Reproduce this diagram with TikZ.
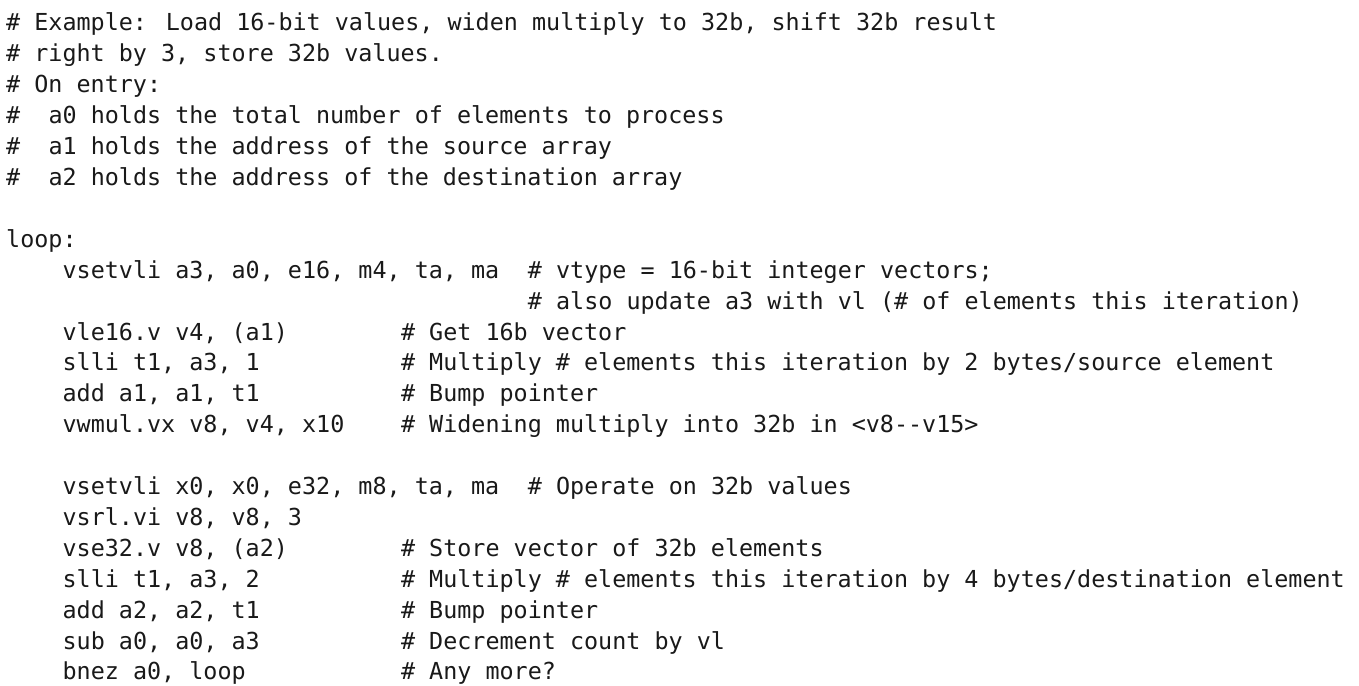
\documentclass[tikz,border=0pt]{standalone}
\usepackage{fontspec}
\newfontfamily\codefont{DejaVu Sans Mono}
\begin{document}
\begin{tikzpicture}[x=1pt,y=1pt,
  code/.style={anchor=base west,inner sep=0pt,font=\codefont\fontsize{23.4}{30.9}\selectfont,text=black!90}]
\useasboundingbox (0,0) rectangle (1359,-685);
\def\cw{14.1}
\def\ln#1#2#3#4{\node[code] (#1) at (6+#2*\cw,-31-#3*30.9) {#4};}
\ln{l0}{0}{0}{\# Example: Load 16-bit values, widen multiply to 32b, shift 32b result}
\ln{l1}{0}{1}{\# right by 3, store 32b values.}
\ln{l2}{0}{2}{\# On entry:}
\ln{l3a}{0}{3}{\#}\ln{l3}{3}{3}{a0 holds the total number of elements to process}
\ln{l4a}{0}{4}{\#}\ln{l4}{3}{4}{a1 holds the address of the source array}
\ln{l5a}{0}{5}{\#}\ln{l5}{3}{5}{a2 holds the address of the destination array}
\ln{l7}{0}{7}{loop:}
\ln{l8}{4}{8}{vsetvli a3, a0, e16, m4, ta, ma}\ln{l8c}{37}{8}{\# vtype = 16-bit integer vectors;}
\ln{l9c}{37}{9}{\# also update a3 with vl (\# of elements this iteration)}
\ln{l10}{4}{10}{vle16.v v4, (a1)}\ln{l10c}{28}{10}{\# Get 16b vector}
\ln{l11}{4}{11}{slli t1, a3, 1}\ln{l11c}{28}{11}{\# Multiply \# elements this iteration by 2 bytes/source element}
\ln{l12}{4}{12}{add a1, a1, t1}\ln{l12c}{28}{12}{\# Bump pointer}
\ln{l13}{4}{13}{vwmul.vx v8, v4, x10}\ln{l13c}{28}{13}{\# Widening multiply into 32b in <v8--v15>}
\ln{l15}{4}{15}{vsetvli x0, x0, e32, m8, ta, ma}\ln{l15c}{37}{15}{\# Operate on 32b values}
\ln{l16}{4}{16}{vsrl.vi v8, v8, 3}
\ln{l17}{4}{17}{vse32.v v8, (a2)}\ln{l17c}{28}{17}{\# Store vector of 32b elements}
\ln{l18}{4}{18}{slli t1, a3, 2}\ln{l18c}{28}{18}{\# Multiply \# elements this iteration by 4 bytes/destination element}
\ln{l19}{4}{19}{add a2, a2, t1}\ln{l19c}{28}{19}{\# Bump pointer}
\ln{l20}{4}{20}{sub a0, a0, a3}\ln{l20c}{28}{20}{\# Decrement count by vl}
\ln{l21}{4}{21}{bnez a0, loop}\ln{l21c}{28}{21}{\# Any more?}
\end{tikzpicture}
\end{document}
